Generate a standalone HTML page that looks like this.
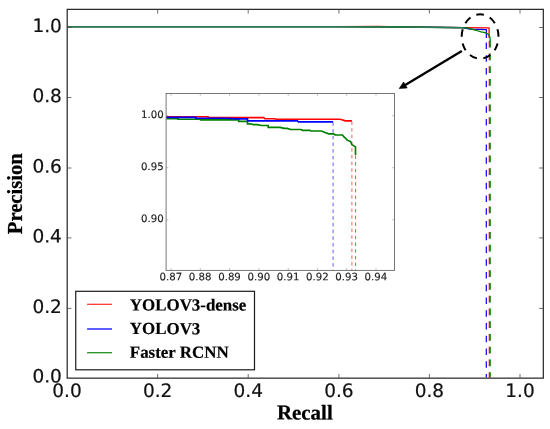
<!DOCTYPE html>
<html>
<head>
<meta charset="utf-8">
<title>Precision-Recall</title>
<style>
html,body{margin:0;padding:0;background:#fff;}
body{width:550px;height:429px;overflow:hidden;}
svg{display:block;}
.tk{font-family:"DejaVu Sans","Liberation Sans",sans-serif;font-size:18.5px;fill:#111;stroke:#111;stroke-width:0.22px;}
.tks{font-family:"DejaVu Sans","Liberation Sans",sans-serif;font-size:10.2px;fill:#222;stroke:#222;stroke-width:0.15px;}
.lb{font-family:"Liberation Serif",serif;font-weight:bold;font-size:20.95px;fill:#000;stroke:#000;stroke-width:0.25px;}
.lg{font-family:"Liberation Serif",serif;font-weight:bold;font-size:16.93px;fill:#000;stroke:#000;stroke-width:0.2px;}
</style>
</head>
<body>
<svg width="550" height="429" viewBox="0 0 550 429">
<rect x="0" y="0" width="550" height="429" fill="#ffffff"/>
<!-- main curves -->
<g fill="none" stroke-width="1.3" stroke-linejoin="round">
  <path d="M486.3 42.5 V377.5" stroke="#0000ff" stroke-width="1.2" stroke-dasharray="6.6 6.15"/>
  <path d="M489.3 40.8 V377.5" stroke="#ff0000" stroke-width="1.2" stroke-dasharray="6.6 6.15"/>
  <path d="M490.2 47.2 V377.5" stroke="#008000" stroke-width="1.2" stroke-dasharray="6.6 6.15" stroke-dashoffset="6.4"/>
  <path d="M67.3 26.6 H340 L378 26.5 L400 26.9 L463 27.6 L489.1 27.9 V38" stroke="#ff0000"/>
  <path d="M67.3 26.6 H340 L400 27 L463 27.7 L470 29.2 L486.4 29.6 V38" stroke="#0000ff"/>
  <path d="M67.3 26.6 H340 L400 27 L463 27.7 L468 28.1 L475 30 L481 31.8 L485 32.6 L488 34 L489.8 36.8 L490.2 40 V47.2" stroke="#008000"/>
  <path d="M67.3 26.8 H340 L400 27.1 L463 27.8" stroke="#2a7d4c" stroke-width="1.55"/>
</g>
<!-- main frame -->
<rect x="67.2" y="9.35" width="476.10" height="368.80" fill="none" stroke="#222" stroke-width="1.2"/>
<path d="M157.6 378.15v-4.2M157.6 9.35v4.2M248.2 378.15v-4.2M248.2 9.35v4.2M338.9 378.15v-4.2M338.9 9.35v4.2M429.4 378.15v-4.2M429.4 9.35v4.2M520.0 378.15v-4.2M520.0 9.35v4.2M67.2 27.5h4.2M543.3 27.5h-4.2M67.2 97.5h4.2M543.3 97.5h-4.2M67.2 168.0h4.2M543.3 168.0h-4.2M67.2 237.9h4.2M543.3 237.9h-4.2M67.2 308.4h4.2M543.3 308.4h-4.2" stroke="#4a4a4a" stroke-width="0.8" fill="none"/>
<text class="tk" x="61.8" y="32.15" text-anchor="end" transform="rotate(0.05 61.8 32.15)">1.0</text>
<text class="tk" x="61.8" y="102.15" text-anchor="end" transform="rotate(0.05 61.8 102.15)">0.8</text>
<text class="tk" x="61.8" y="172.65" text-anchor="end" transform="rotate(0.05 61.8 172.65)">0.6</text>
<text class="tk" x="61.8" y="242.55" text-anchor="end" transform="rotate(0.05 61.8 242.55)">0.4</text>
<text class="tk" x="61.8" y="313.05" text-anchor="end" transform="rotate(0.05 61.8 313.05)">0.2</text>
<text class="tk" x="61.8" y="382.6" text-anchor="end" transform="rotate(0.05 61.8 382.6)">0.0</text>
<text class="tk" x="67.0" y="396.9" text-anchor="middle" transform="rotate(0.05 67.0 396.9)">0.0</text>
<text class="tk" x="157.6" y="396.9" text-anchor="middle" transform="rotate(0.05 157.6 396.9)">0.2</text>
<text class="tk" x="248.2" y="396.9" text-anchor="middle" transform="rotate(0.05 248.2 396.9)">0.4</text>
<text class="tk" x="338.9" y="396.9" text-anchor="middle" transform="rotate(0.05 338.9 396.9)">0.6</text>
<text class="tk" x="429.4" y="396.9" text-anchor="middle" transform="rotate(0.05 429.4 396.9)">0.8</text>
<text class="tk" x="520.0" y="396.9" text-anchor="middle" transform="rotate(0.05 520.0 396.9)">1.0</text>
<text class="lb" x="304.8" y="419.4" text-anchor="middle" transform="rotate(0.05 304.8 419.4)">Recall</text>
<text class="lb" style="font-size:20.65px" transform="translate(22.15,193.7) rotate(-90)" text-anchor="middle">Precision</text>
<!-- dashed ellipse + arrow -->
<path d="M480.1 14.3 A18.4 22.2 0 1 1 480.09 14.3" pathLength="90" fill="none" stroke="#000" stroke-width="2" stroke-dasharray="5.4 4.6" stroke-dashoffset="2.7"/>
<path d="M461.8 50.9 L404 85.8" stroke="#000" stroke-width="2.3" fill="none"/>
<path d="M399.2 88.5 L403.6 82.0 L405.6 85.2 L407.1 88.0 Z" fill="#000" stroke="#000" stroke-width="0.6" stroke-linejoin="miter"/>
<!-- inset -->
<rect x="166.1" y="93.5" width="228.40" height="176.90" fill="#fff" stroke="none"/>
<g fill="none" stroke-linejoin="miter">
  <path d="M333.1 122.4 V270" stroke="#5c5cff" stroke-width="1" stroke-dasharray="3.5 3.2"/>
  <path d="M351.9 121.4 V270" stroke="#ff5c5c" stroke-width="1" stroke-dasharray="3.5 3.2"/>
  <path d="M355.6 155.4 V270" stroke="#4a9e4a" stroke-width="1" stroke-dasharray="3.5 3.2"/>
  <path d="M166.3 116.7 H208 V117.6 H263.8 L264.8 118.7 H274.7 L276 119.2 H340.3 L345.4 120.8 H351.9" stroke="#ff0000" stroke-width="1.65"/>
  <path d="M166.3 118.6 H178 V119.2 H200.7 V119.9 H238.7 V121.3 H247.5 V123.8 H250 L253.5 124.6 H257 L261.6 125.5 H268.2 V127.4 H280.2 L284 128.4 H287 L290.8 129.5 H301 L302.5 130.3 H309.7 L311 131 H321.4 L325 132.6 L328.6 133.8 H333.7 L335.2 135 H342.5 L344 137 L345.4 138.2 L347.5 140.4 L350.5 141.5 L351.9 144.7 L353.5 145.6 L355.5 146.9 V155" stroke="#008000" stroke-width="1.65"/>
  <path d="M166.3 117.4 H195.8 V118.2 H225 L238.5 118.9 H247.5 V120.9 H297.4 L298.4 121.8 H333.1" stroke="#0000ff" stroke-width="1.65"/>
</g>
<rect x="166.1" y="93.5" width="228.40" height="176.90" fill="none" stroke="#686868" stroke-width="0.9"/>
<path d="M171.0 270.4v-2.2M171.0 93.5v2.2M200.3 270.4v-2.2M200.3 93.5v2.2M229.6 270.4v-2.2M229.6 93.5v2.2M258.9 270.4v-2.2M258.9 93.5v2.2M288.2 270.4v-2.2M288.2 93.5v2.2M317.4 270.4v-2.2M317.4 93.5v2.2M346.7 270.4v-2.2M346.7 93.5v2.2M376.0 270.4v-2.2M376.0 93.5v2.2M166.1 115.7h2.2M394.5 115.7h-2.2M166.1 167.7h2.2M394.5 167.7h-2.2M166.1 219.8h2.2M394.5 219.8h-2.2" stroke="#8a8a8a" stroke-width="0.6" fill="none"/>
<text class="tks" x="163.8" y="117.95" text-anchor="end" transform="rotate(0.05 163.8 117.95)">1.00</text>
<text class="tks" x="163.8" y="169.95" text-anchor="end" transform="rotate(0.05 163.8 169.95)">0.95</text>
<text class="tks" x="163.8" y="222.05" text-anchor="end" transform="rotate(0.05 163.8 222.05)">0.90</text>
<text class="tks" x="170.9" y="280.35" text-anchor="middle" transform="rotate(0.05 170.9 280.35)">0.87</text>
<text class="tks" x="200.2" y="280.35" text-anchor="middle" transform="rotate(0.05 200.2 280.35)">0.88</text>
<text class="tks" x="229.5" y="280.35" text-anchor="middle" transform="rotate(0.05 229.5 280.35)">0.89</text>
<text class="tks" x="258.8" y="280.35" text-anchor="middle" transform="rotate(0.05 258.8 280.35)">0.90</text>
<text class="tks" x="288.1" y="280.35" text-anchor="middle" transform="rotate(0.05 288.1 280.35)">0.91</text>
<text class="tks" x="317.3" y="280.35" text-anchor="middle" transform="rotate(0.05 317.3 280.35)">0.92</text>
<text class="tks" x="346.6" y="280.35" text-anchor="middle" transform="rotate(0.05 346.6 280.35)">0.93</text>
<text class="tks" x="375.9" y="280.35" text-anchor="middle" transform="rotate(0.05 375.9 280.35)">0.94</text>
<!-- legend -->
<rect x="75.75" y="291.3" width="178.75" height="78.5" fill="#fff" stroke="#1a1a1a" stroke-width="1.2"/>
<path d="M87.1 304.3 H112" stroke="#ff2a2a" stroke-width="1.2"/>
<path d="M87.1 329 H112" stroke="#2a2aff" stroke-width="1.5"/>
<path d="M87.1 352.7 H112" stroke="#259225" stroke-width="1.3"/>
<text class="lg" x="129.8" y="310.4" transform="rotate(0.05 129.8 310.4)">YOLOV3-dense</text>
<text class="lg" x="129.8" y="334.1" transform="rotate(0.05 129.8 334.1)">YOLOV3</text>
<text class="lg" x="129.8" y="357.8" transform="rotate(0.05 129.8 357.8)">Faster RCNN</text>
</svg>
</body>
</html>
